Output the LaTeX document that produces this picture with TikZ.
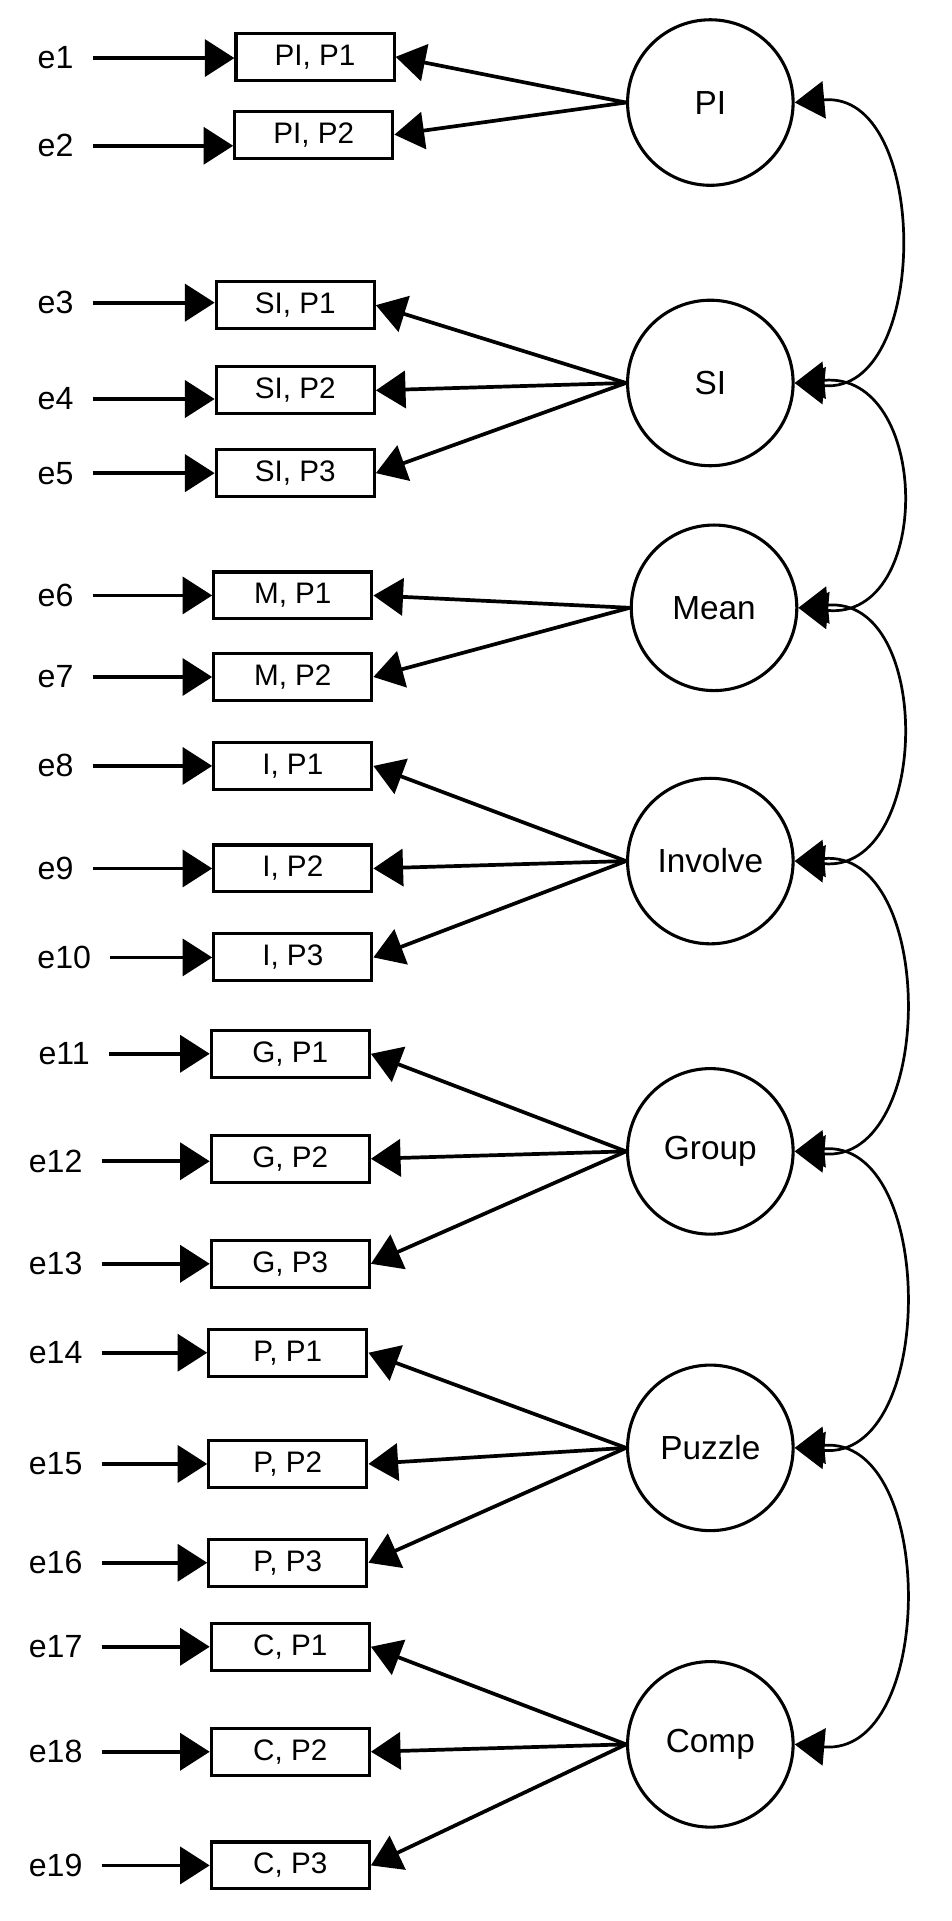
\documentclass[tikz,border=0pt]{standalone}
\usepackage{fontspec}
\setmainfont{Liberation Sans}
\usetikzlibrary{arrows.meta}
\begin{document}
\begin{tikzpicture}[x=1pt,y=-1pt,
  obs/.style={draw,line width=2.5pt,minimum width=128pt,minimum height=38pt,inner sep=0pt,font=\fontsize{24}{24}\selectfont},
  lat/.style={draw,circle,line width=2.5pt,minimum size=134pt,inner sep=0pt,font=\fontsize{27}{27}\selectfont},
  err/.style={font=\fontsize{26}{26}\selectfont},
  tip/.style={-{Triangle[length=24pt,width=30pt]}},
  ld/.style={tip,line width=3pt},
  cov/.style={{Triangle[length=24pt,width=30pt]}-{Triangle[length=24pt,width=30pt]},line width=2.2pt}]
\useasboundingbox (0,0) rectangle (770,1555);
% latent
\node[lat] (PI) at (575,83) {PI};
\node[lat] (SI) at (575,310) {SI};
\node[lat] (M) at (578,492) {Mean};
\node[lat] (I) at (575,697) {Involve};
\node[lat] (G) at (575,932) {Group};
\node[lat] (P) at (575,1172) {Puzzle};
\node[lat] (C) at (575,1412) {Comp};
% observed
\foreach \n/\x/\y/\ey/\t/\e/\ex/\l in {
 o1/255/46/47/{PI, P1}/e1/45/PI, o2/254/109/118/{PI, P2}/e2/45/PI,
 o3/239/247/245/{SI, P1}/e3/45/SI, o4/239/316/323/{SI, P2}/e4/45/SI, o5/239/383/383/{SI, P3}/e5/45/SI,
 o6/237/482/482/{M, P1}/e6/45/M, o7/237/548/548/{M, P2}/e7/45/M,
 o8/237/620/620/{I, P1}/e8/45/I, o9/237/703/703/{I, P2}/e9/45/I, o10/237/775/775/{I, P3}/e10/52/I,
 o11/235/853/853/{G, P1}/e11/52/G, o12/235/938/940/{G, P2}/e12/45/G, o13/235/1023/1023/{G, P3}/e13/45/G,
 o14/233/1095/1095/{P, P1}/e14/45/P, o15/233/1185/1185/{P, P2}/e15/45/P, o16/233/1265/1265/{P, P3}/e16/45/P,
 o17/235/1333/1333/{C, P1}/e17/45/C, o18/235/1418/1418/{C, P2}/e18/45/C, o19/235/1510/1510/{C, P3}/e19/45/C}{
  \node[obs] (\n) at (\x,\y) {\t};
  \node[err] (\e) at (\ex,\ey) {\e};
  \draw[ld] (\e.east) ++(12,0) coordinate (s\n) -- (\n.west |- \e.east);
  \draw[ld] (\l.west) -- (\n.east);
}
% covariances
\draw[cov] (PI.east) .. controls +(110,-10) and +(110,10) .. (SI.east);
\draw[cov] (SI.east) .. controls +(110,-10) and +(110,10) .. (M.east);
\draw[cov] (M.east) .. controls +(110,-10) and +(110,10) .. (I.east);
\draw[cov] (I.east) .. controls +(115,-10) and +(115,10) .. (G.east);
\draw[cov] (G.east) .. controls +(115,-10) and +(115,10) .. (P.east);
\draw[cov] (P.east) .. controls +(115,-10) and +(115,10) .. (C.east);
\end{tikzpicture}
\end{document}
